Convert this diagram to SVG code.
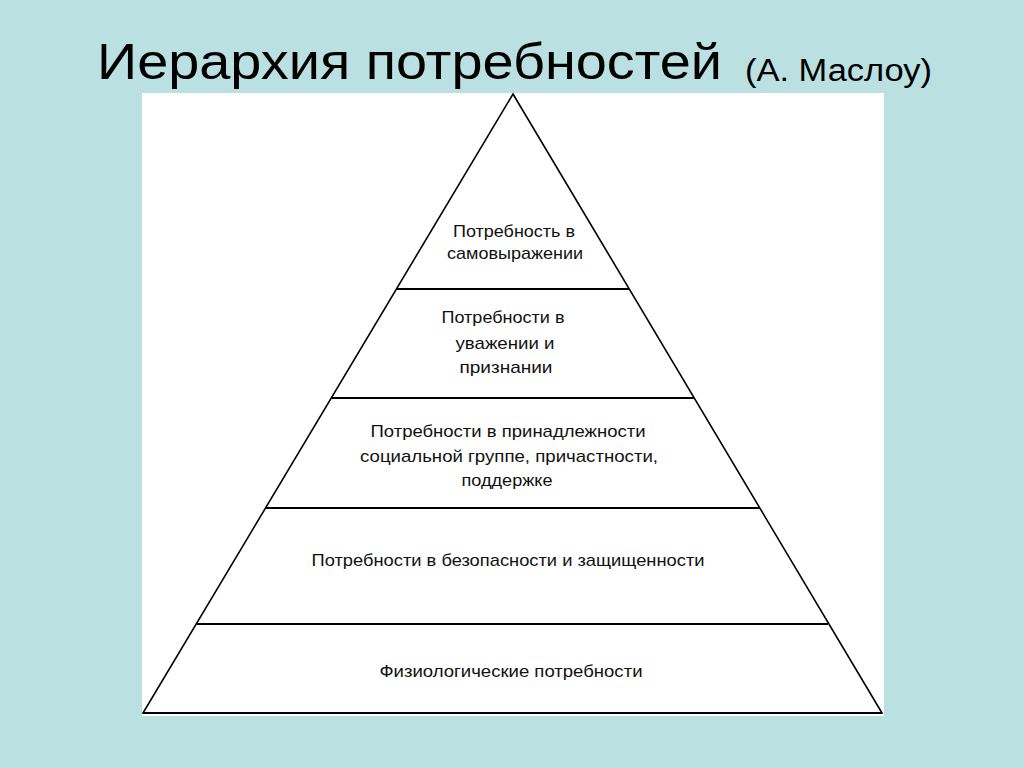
<svg xmlns="http://www.w3.org/2000/svg" width="1024" height="768" viewBox="0 0 1024 768">
  <style>
    .title { font-family: "Liberation Sans", Arial, sans-serif; fill: #000; }
    .lbl { font-family: "Liberation Sans", Arial, sans-serif; font-size: 17px; fill: #111; text-anchor: middle; }
    .side { fill: none; stroke: #000; stroke-width: 1.6; }
    .div { stroke: #000; stroke-width: 2; }
  </style>
  <rect x="0" y="0" width="1024" height="768" fill="#bae0e1"/>
  <g id="title">
    <text class="title" x="97" y="79" font-size="50" textLength="625" lengthAdjust="spacingAndGlyphs">Иерархия потребностей</text>
    <text class="title" x="745" y="81" font-size="31" textLength="187" lengthAdjust="spacingAndGlyphs">(А. Маслоу)</text>
  </g>
  <rect x="142" y="93" width="742" height="623" fill="#fff"/>
  <g id="pyramid">
    <polygon class="side" points="513,94 882,713 143,713"/>
    <line class="div" x1="143" y1="713" x2="882" y2="713"/>
  </g>
  <g id="dividers">
    <line class="div" x1="397" y1="289" x2="629" y2="289"/>
    <line class="div" x1="332" y1="398" x2="694" y2="398"/>
    <line class="div" x1="266" y1="508" x2="760" y2="508"/>
    <line class="div" x1="197" y1="624" x2="828" y2="624"/>
  </g>
  <g id="level-self-expression">
    <text class="lbl" x="514" y="237" textLength="122" lengthAdjust="spacingAndGlyphs">Потребность в</text>
    <text class="lbl" x="515" y="259" textLength="136" lengthAdjust="spacingAndGlyphs">самовыражении</text>
  </g>
  <g id="level-esteem">
    <text class="lbl" x="503" y="323" textLength="123" lengthAdjust="spacingAndGlyphs">Потребности в</text>
    <text class="lbl" x="505" y="349" textLength="99" lengthAdjust="spacingAndGlyphs">уважении и</text>
    <text class="lbl" x="506" y="373" textLength="93" lengthAdjust="spacingAndGlyphs">признании</text>
  </g>
  <g id="level-belonging">
    <text class="lbl" x="508" y="437" textLength="275" lengthAdjust="spacingAndGlyphs">Потребности в принадлежности</text>
    <text class="lbl" x="509" y="462" textLength="298" lengthAdjust="spacingAndGlyphs">социальной группе, причастности,</text>
    <text class="lbl" x="507" y="486" textLength="91" lengthAdjust="spacingAndGlyphs">поддержке</text>
  </g>
  <g id="level-safety">
    <text class="lbl" x="508" y="566" textLength="393" lengthAdjust="spacingAndGlyphs">Потребности в безопасности и защищенности</text>
  </g>
  <g id="level-physiological">
    <text class="lbl" x="511" y="677" textLength="263" lengthAdjust="spacingAndGlyphs">Физиологические потребности</text>
  </g>
</svg>
